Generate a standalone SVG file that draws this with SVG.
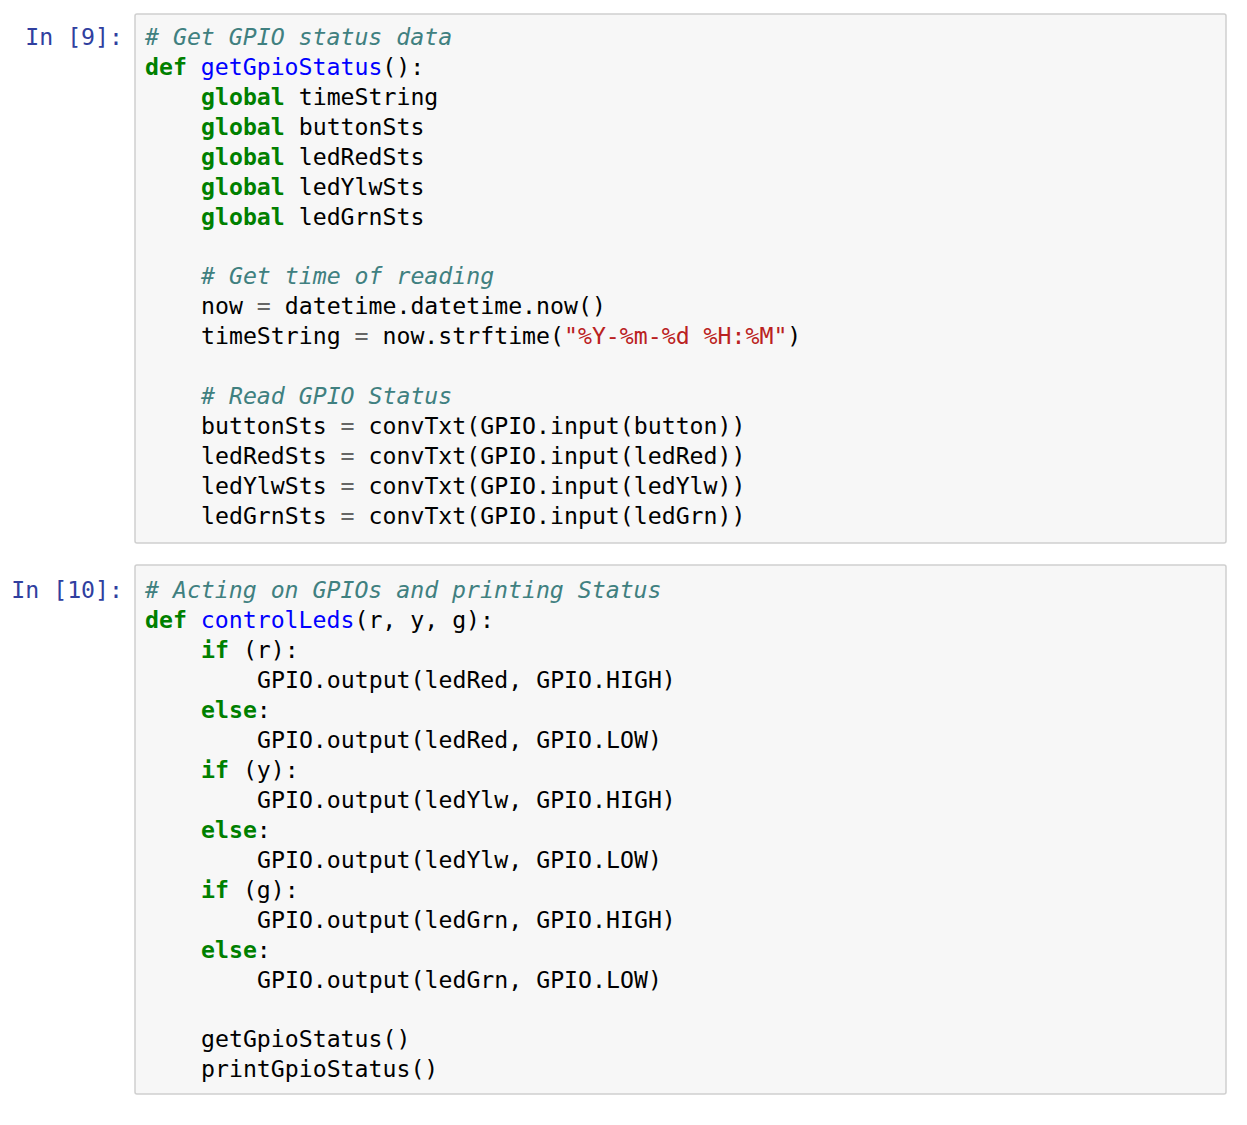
<svg xmlns="http://www.w3.org/2000/svg" width="1247" height="1125" viewBox="0 0 1247 1125">
<style>
text{font-family:"DejaVu Sans Mono","Liberation Mono",monospace;font-size:23.2px;fill:#000;white-space:pre}
.c{fill:#408080;font-style:italic}.k{fill:#008000;font-weight:bold}.f{fill:#0000ff}.s{fill:#ba2121}.o{fill:#666}
.p{fill:#303f9f;text-anchor:end}
.cell{fill:#f7f7f7;stroke:#cfcfcf;stroke-width:1.5}
</style>
<rect width="1247" height="1125" fill="#fff"/>
<g id="cell9">
<rect class="cell" x="135" y="14" width="1091" height="529" rx="2"/>
<text class="p" x="123" y="45">In [9]:</text>
<text x="145" y="45" class="c"># Get GPIO status data</text>
<text x="145" y="75"><tspan class="k">def</tspan> <tspan class="f">getGpioStatus</tspan>():</text>
<text x="201" y="105"><tspan class="k">global</tspan> timeString</text>
<text x="201" y="135"><tspan class="k">global</tspan> buttonSts</text>
<text x="201" y="165"><tspan class="k">global</tspan> ledRedSts</text>
<text x="201" y="195"><tspan class="k">global</tspan> ledYlwSts</text>
<text x="201" y="225"><tspan class="k">global</tspan> ledGrnSts</text>
<text x="201" y="284" class="c"># Get time of reading</text>
<text x="201" y="314">now <tspan class="o">=</tspan> datetime.datetime.now()</text>
<text x="201" y="344">timeString <tspan class="o">=</tspan> now.strftime(<tspan class="s">"%Y-%m-%d %H:%M"</tspan>)</text>
<text x="201" y="404" class="c"># Read GPIO Status</text>
<text x="201" y="434">buttonSts <tspan class="o">=</tspan> convTxt(GPIO.input(button))</text>
<text x="201" y="464">ledRedSts <tspan class="o">=</tspan> convTxt(GPIO.input(ledRed))</text>
<text x="201" y="494">ledYlwSts <tspan class="o">=</tspan> convTxt(GPIO.input(ledYlw))</text>
<text x="201" y="524">ledGrnSts <tspan class="o">=</tspan> convTxt(GPIO.input(ledGrn))</text>
</g>
<g id="cell10">
<rect class="cell" x="135" y="565" width="1091" height="529" rx="2"/>
<text class="p" x="123" y="598">In [10]:</text>
<text x="145" y="598" class="c"># Acting on GPIOs and printing Status</text>
<text x="145" y="628"><tspan class="k">def</tspan> <tspan class="f">controlLeds</tspan>(r, y, g):</text>
<text x="201" y="658"><tspan class="k">if</tspan> (r):</text>
<text x="257" y="688">GPIO.output(ledRed, GPIO.HIGH)</text>
<text x="201" y="718"><tspan class="k">else</tspan>:</text>
<text x="257" y="748">GPIO.output(ledRed, GPIO.LOW)</text>
<text x="201" y="778"><tspan class="k">if</tspan> (y):</text>
<text x="257" y="808">GPIO.output(ledYlw, GPIO.HIGH)</text>
<text x="201" y="838"><tspan class="k">else</tspan>:</text>
<text x="257" y="868">GPIO.output(ledYlw, GPIO.LOW)</text>
<text x="201" y="898"><tspan class="k">if</tspan> (g):</text>
<text x="257" y="928">GPIO.output(ledGrn, GPIO.HIGH)</text>
<text x="201" y="958"><tspan class="k">else</tspan>:</text>
<text x="257" y="988">GPIO.output(ledGrn, GPIO.LOW)</text>
<text x="201" y="1047">getGpioStatus()</text>
<text x="201" y="1077">printGpioStatus()</text>
</g>
</svg>
